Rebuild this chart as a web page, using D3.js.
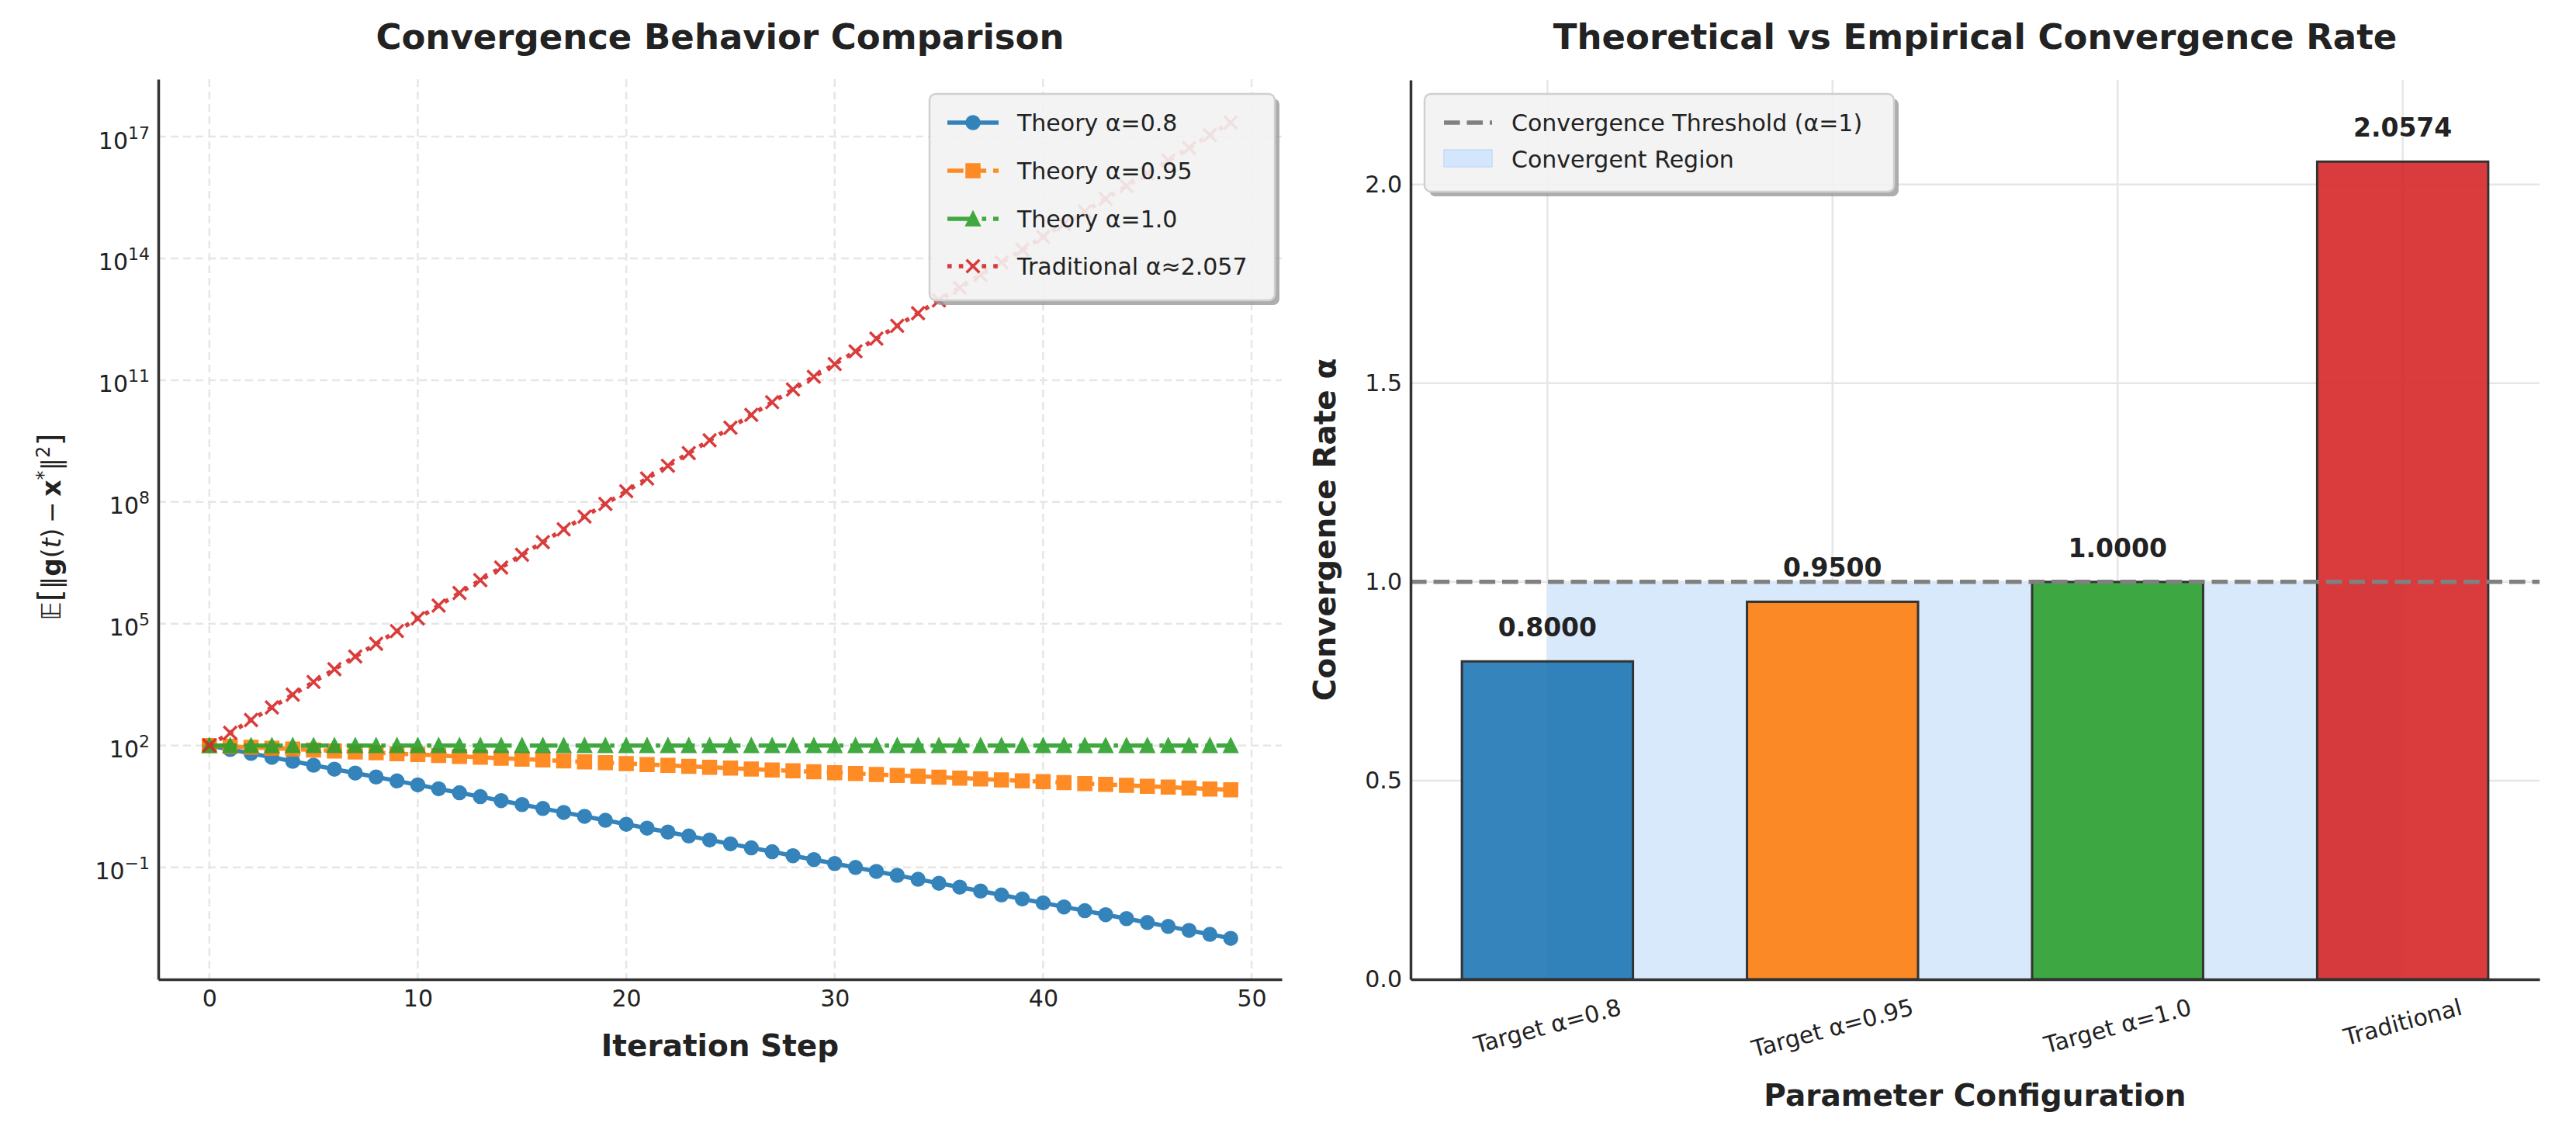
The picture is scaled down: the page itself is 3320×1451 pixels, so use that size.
<!DOCTYPE html>
<html>
<head>
<meta charset="utf-8">
<script src="https://cdn.jsdelivr.net/npm/d3@7"></script>
<style>
	body { margin: 0; background: #fff; }
	svg { display: block; font-family: "DejaVu Sans", sans-serif; }
</style>
</head>
<body>
<svg id="chart" width="3320" height="1451"></svg>
<script>
'use strict';

// ---- data: left panel (error vs iteration, log scale)
const steps = [0, 1, 2, 3, 4, 5, 6, 7, 8, 9, 10, 11, 12, 13, 14, 15, 16, 17, 18, 19,
	20, 21, 22, 23, 24, 25, 26, 27, 28, 29, 30, 31, 32, 33, 34, 35, 36, 37, 38, 39,
	40, 41, 42, 43, 44, 45, 46, 47, 48, 49];
const theory08 = [100, 80, 64, 51.2, 40.96, 32.77, 26.21, 20.97, 16.78, 13.42,
	10.74, 8.59, 6.87, 5.50, 4.40, 3.52, 2.81, 2.25, 1.80, 1.44,
	1.15, 0.922, 0.738, 0.590, 0.472, 0.378, 0.302, 0.242, 0.193, 0.155,
	0.124, 0.0990, 0.0792, 0.0634, 0.0507, 0.0406, 0.0325, 0.0260, 0.0208, 0.0166,
	0.0133, 0.0106, 0.00851, 0.00681, 0.00545, 0.00436, 0.00349, 0.00279, 0.00223, 0.00178];
const theory095 = [100, 95, 90.3, 85.7, 81.5, 77.4, 73.5, 69.8, 66.3, 63.0,
	59.9, 56.9, 54.0, 51.3, 48.8, 46.3, 44.0, 41.8, 39.7, 37.7,
	35.8, 34.1, 32.4, 30.7, 29.2, 27.7, 26.3, 25.0, 23.8, 22.6,
	21.5, 20.4, 19.4, 18.4, 17.5, 16.6, 15.8, 15.0, 14.2, 13.5,
	12.9, 12.2, 11.6, 11.0, 10.5, 9.94, 9.45, 8.97, 8.53, 8.10];
const theory10 = [100, 100, 100, 100, 100, 100, 100, 100, 100, 100,
	100, 100, 100, 100, 100, 100, 100, 100, 100, 100,
	100, 100, 100, 100, 100, 100, 100, 100, 100, 100,
	100, 100, 100, 100, 100, 100, 100, 100, 100, 100,
	100, 100, 100, 100, 100, 100, 100, 100, 100, 100];
const traditional = [1.000e2, 2.057e2, 4.231e2, 8.704e2, 1.790e3, 3.683e3, 7.576e3, 1.558e4, 3.205e4, 6.593e4,
	1.356e5, 2.790e5, 5.739e5, 1.180e6, 2.428e6, 4.995e6, 1.027e7, 2.113e7, 4.347e7, 8.942e7,
	1.839e8, 3.784e8, 7.783e8, 1.601e9, 3.293e9, 6.774e9, 1.393e10, 2.866e10, 5.896e10, 1.213e11,
	2.495e11, 5.132e11, 1.056e12, 2.172e12, 4.467e12, 9.189e12, 1.890e13, 3.888e13, 7.998e13, 1.645e14,
	3.384e14, 6.961e14, 1.432e15, 2.946e15, 6.059e15, 1.246e16, 2.564e16, 5.274e16, 1.084e17, 2.231e17];
const seriesNames = ["Theory α=0.8", "Theory α=0.95", "Theory α=1.0", "Traditional α≈2.057"];
const xTicks = [0, 10, 20, 30, 40, 50];
const yTicks = [1e-1, 1e2, 1e5, 1e8, 1e11, 1e14, 1e17];

// ---- data: right panel (convergence rate per config)
const configs = ["Target α=0.8", "Target α=0.95", "Target α=1.0", "Traditional"];
const rates = [0.8, 0.95, 1.0, 2.0574];
const rateTicks = [0, 0.5, 1.0, 1.5, 2.0];
const threshold = 1.0;

// ---- style
const colors = ["#1f77b4", "#ff7f0e", "#2ca02c", "#d62728"];
const textColor = "#222";
const spineColor = "#333";
const gridColor = "#e6e6e6";

const svg = d3.select("#chart");
svg.append("rect").attr("width", 3320).attr("height", 1451).attr("fill", "#fff");
const defs = svg.append("defs");

// marker shapes (size in px, centred on 0,0)
const markerPath = (type, s) => {
	const r = s / 2;
	if (type === "circle") return `M${r},0A${r},${r} 0 1,1 ${-r},0A${r},${r} 0 1,1 ${r},0Z`;
	if (type === "square") return `M${-r},${-r}H${r}V${r}H${-r}Z`;
	if (type === "triangle") return `M0,${-r}L${r},${r}L${-r},${r}Z`;
	return `M${-r},${-r}L${r},${r}M${-r},${r}L${r},${-r}`;
};

// legend box with a shadow that only shows outside the (semi transparent) frame
const legendBox = (g, id, bx, by, bw, bh) => {
	const m = defs.append("mask").attr("id", id);
	m.append("rect").attr("width", 3320).attr("height", 1451).attr("fill", "#fff");
	m.append("rect").attr("x", bx).attr("y", by).attr("width", bw).attr("height", bh)
		.attr("rx", 8).attr("fill", "#000");
	g.append("rect").attr("x", bx + 6).attr("y", by + 6).attr("width", bw).attr("height", bh)
		.attr("rx", 8).attr("fill", "#999").attr("opacity", 0.8).attr("mask", `url(#${id})`);
	g.append("rect").attr("x", bx).attr("y", by).attr("width", bw).attr("height", bh)
		.attr("rx", 8).attr("fill", "#f2f2f2").attr("fill-opacity", 0.9)
		.attr("stroke", "#d0d0d0").attr("stroke-width", 2.5);
};

const series = [
	{name: seriesNames[0], values: theory08, color: colors[0], dash: null, marker: "circle"},
	{name: seriesNames[1], values: theory095, color: colors[1], dash: "20.6,8.9", marker: "square"},
	{name: seriesNames[2], values: theory10, color: colors[2], dash: "35.6,8.9,5.6,8.9", marker: "triangle"},
	{name: seriesNames[3], values: traditional, color: colors[3], dash: "5.6,9.2", marker: "x"}
];

// =============== left panel ===============
const L = {left: 204, right: 1652, top: 102, bottom: 1262};
const x = d3.scaleLinear().domain([-2.45, 51.45]).range([L.left, L.right]);
const y = d3.scaleLog().domain([1.74e-4, 2.6e18]).range([L.bottom, L.top]);

const gl = svg.append("g");

// grid
gl.selectAll(".vgrid").data(xTicks).enter().append("line")
	.attr("x1", d => x(d)).attr("x2", d => x(d))
	.attr("y1", L.top).attr("y2", L.bottom)
	.attr("stroke", gridColor).attr("stroke-width", 2.5).attr("stroke-dasharray", "10,6");
gl.selectAll(".hgrid").data(yTicks).enter().append("line")
	.attr("x1", L.left).attr("x2", L.right)
	.attr("y1", d => y(d)).attr("y2", d => y(d))
	.attr("stroke", gridColor).attr("stroke-width", 2.5).attr("stroke-dasharray", "10,6");

// lines + markers
const line = d3.line().x((d, i) => x(steps[i])).y(d => y(d));
series.forEach(s => {
	const g = gl.append("g").attr("opacity", 0.9);
	g.append("path")
		.attr("d", line(s.values))
		.attr("fill", "none")
		.attr("stroke", s.color)
		.attr("stroke-width", 5.5)
		.attr("stroke-dasharray", s.dash);
	g.selectAll(".m").data(s.values).enter().append("path")
		.attr("transform", (d, i) => `translate(${x(steps[i])},${y(d)})`)
		.attr("d", markerPath(s.marker, 16.7))
		.attr("fill", s.marker === "x" ? "none" : s.color)
		.attr("stroke", s.color)
		.attr("stroke-width", s.marker === "x" ? 3.5 : 2.8);
});

// axes
const xAxis = gl.append("g")
	.attr("transform", `translate(0,${L.bottom})`)
	.call(d3.axisBottom(x).tickValues(xTicks).tickSize(0).tickSizeOuter(0).tickPadding(13.7));
const yAxis = gl.append("g")
	.attr("transform", `translate(${L.left},0)`)
	.call(d3.axisLeft(y).tickValues(yTicks).tickSize(0).tickSizeOuter(0).tickPadding(11).tickFormat(() => ""));

yAxis.selectAll(".tick text")
	.attr("dy", "0.5em")
	.each(function(d) {
		const e = Math.round(Math.log10(d));
		const t = d3.select(this);
		t.append("tspan").text("10");
		t.append("tspan").attr("dy", -13).attr("font-size", 22).text(e < 0 ? "−" + (-e) : String(e));
	});

[xAxis, yAxis].forEach(a => {
	a.select(".domain").attr("stroke", spineColor).attr("stroke-width", 3.5);
	a.selectAll(".tick text").attr("font-size", 30).attr("fill", textColor)
		.attr("font-family", "DejaVu Sans");
});

// titles and labels
gl.append("text")
	.attr("x", (L.left + L.right) / 2).attr("y", 63)
	.attr("text-anchor", "middle").attr("font-size", 45).attr("font-weight", "bold")
	.attr("fill", textColor).text("Convergence Behavior Comparison");
gl.append("text")
	.attr("x", (L.left + L.right) / 2).attr("y", 1361)
	.attr("text-anchor", "middle").attr("font-size", 39).attr("font-weight", "bold")
	.attr("fill", textColor).text("Iteration Step");

// math style y label: E[||g(t) - x*||^2]
const yl = gl.append("text")
	.attr("transform", `translate(78,679) rotate(-90)`)
	.attr("text-anchor", "middle").attr("font-size", 33).attr("fill", textColor);
yl.append("tspan").attr("font-style", "italic").text("𝔼");
yl.append("tspan").attr("font-size", 41).text("[");
yl.append("tspan").text("‖");
yl.append("tspan").attr("font-weight", "bold").text("g");
yl.append("tspan").text("(");
yl.append("tspan").attr("font-style", "italic").text("t");
yl.append("tspan").text(")\u2009−\u2009");
yl.append("tspan").attr("font-weight", "bold").text("x");
yl.append("tspan").attr("dy", -14).attr("font-size", 24).text("*");
yl.append("tspan").attr("dy", 14).text("‖");
yl.append("tspan").attr("dy", -14).attr("font-size", 24).text("2");
yl.append("tspan").attr("dy", 14).attr("font-size", 41).text("]");

// legend
const lgL = gl.append("g");
legendBox(lgL, "shadowL", 1198, 121, 445, 266);
const rowY = [158, 220, 282, 343];
series.forEach((s, i) => {
	const g = lgL.append("g").attr("transform", `translate(0,${rowY[i]})`);
	const h = g.append("g").attr("opacity", 0.9);
	h.append("line").attr("x1", 1221).attr("x2", 1287)
		.attr("stroke", s.color).attr("stroke-width", 5.5).attr("stroke-dasharray", s.dash);
	h.append("path").attr("transform", "translate(1254,0)")
		.attr("d", markerPath(s.marker, 16.7))
		.attr("fill", s.marker === "x" ? "none" : s.color)
		.attr("stroke", s.color).attr("stroke-width", s.marker === "x" ? 3.5 : 2.8);
	g.append("text").attr("x", 1311).attr("y", 11)
		.attr("font-size", 30).attr("fill", textColor).text(s.name);
});

// =============== right panel ===============
const R = {left: 1818, right: 3273, top: 103, bottom: 1262};
const xb = d3.scaleBand().domain(configs).range([R.left, R.right]).paddingInner(0.4).paddingOuter(0.18);
const yr = d3.scaleLinear().domain([0, 2.263]).range([R.bottom, R.top]);
const bw = xb.bandwidth();
const cx = c => xb(c) + bw / 2;

const gr = svg.append("g");

// grid
gr.selectAll(".vgrid").data(configs).enter().append("line")
	.attr("x1", d => cx(d)).attr("x2", d => cx(d))
	.attr("y1", R.top).attr("y2", R.bottom)
	.attr("stroke", gridColor).attr("stroke-width", 2.5);
gr.selectAll(".hgrid").data(rateTicks).enter().append("line")
	.attr("x1", R.left).attr("x2", R.right)
	.attr("y1", d => yr(d)).attr("y2", d => yr(d))
	.attr("stroke", gridColor).attr("stroke-width", 2.5);

// convergent region
gr.append("rect")
	.attr("x", cx(configs[0]))
	.attr("width", cx(configs[configs.length - 1]) - cx(configs[0]))
	.attr("y", yr(threshold)).attr("height", yr(0) - yr(threshold))
	.attr("fill", "#d8e9fb");

// bars
gr.selectAll(".bar").data(rates).enter().append("rect")
	.attr("x", (d, i) => xb(configs[i]))
	.attr("width", bw)
	.attr("y", d => yr(d))
	.attr("height", d => yr(0) - yr(d))
	.attr("fill", (d, i) => colors[i])
	.attr("fill-opacity", 0.9)
	.attr("stroke", spineColor)
	.attr("stroke-width", 3);

// value labels
gr.selectAll(".val").data(rates).enter().append("text")
	.attr("x", (d, i) => cx(configs[i]))
	.attr("y", d => yr(d) - 32)
	.attr("text-anchor", "middle").attr("font-size", 33).attr("font-weight", "bold")
	.attr("fill", textColor).text(d => d3.format(".4f")(d));

// threshold line
gr.append("line")
	.attr("x1", R.left).attr("x2", R.right)
	.attr("y1", yr(threshold)).attr("y2", yr(threshold))
	.attr("stroke", "#808080").attr("stroke-width", 5.5).attr("stroke-dasharray", "20.6,8.9");

// axes
const xbAxis = gr.append("g")
	.attr("transform", `translate(0,${R.bottom})`)
	.call(d3.axisBottom(xb).tickSize(0).tickSizeOuter(0));
const yrAxis = gr.append("g")
	.attr("transform", `translate(${R.left},0)`)
	.call(d3.axisLeft(yr).tickValues(rateTicks).tickSize(0).tickSizeOuter(0).tickPadding(11).tickFormat(d3.format(".1f")));

[xbAxis, yrAxis].forEach(a => {
	a.select(".domain").attr("stroke", spineColor).attr("stroke-width", 3.5);
	a.selectAll(".tick text").attr("font-size", 30).attr("fill", textColor)
		.attr("font-family", "DejaVu Sans");
});

// rotated category labels, centred under each bar
const rot = 15 * Math.PI / 180;
xbAxis.selectAll(".tick text")
	.attr("y", 0).attr("dy", "0.35em")
	.each(function() {
		const w = this.getComputedTextLength();
		const h = 35;
		const cy = 18 + (w * Math.sin(rot) + h * Math.cos(rot)) / 2;
		d3.select(this).attr("transform", `translate(0,${cy}) rotate(-15)`);
	});

// titles and labels
gr.append("text")
	.attr("x", (R.left + R.right) / 2).attr("y", 63)
	.attr("text-anchor", "middle").attr("font-size", 45).attr("font-weight", "bold")
	.attr("fill", textColor).text("Theoretical vs Empirical Convergence Rate");
gr.append("text")
	.attr("x", (R.left + R.right) / 2).attr("y", 1425)
	.attr("text-anchor", "middle").attr("font-size", 39).attr("font-weight", "bold")
	.attr("fill", textColor).text("Parameter Configuration");
gr.append("text")
	.attr("transform", `translate(1721,${(R.top + R.bottom) / 2}) rotate(-90)`)
	.attr("text-anchor", "middle").attr("font-size", 39).attr("font-weight", "bold")
	.attr("fill", textColor).text("Convergence Rate α");

// legend
const lgR = gr.append("g");
legendBox(lgR, "shadowR", 1836, 121, 605, 126);
lgR.append("line").attr("x1", 1861).attr("x2", 1923).attr("y1", 158).attr("y2", 158)
	.attr("stroke", "#808080").attr("stroke-width", 5.5).attr("stroke-dasharray", "20.6,8.9");
lgR.append("text").attr("x", 1948).attr("y", 169)
	.attr("font-size", 30).attr("fill", textColor).text("Convergence Threshold (α=1)");
lgR.append("rect").attr("x", 1861).attr("y", 193).attr("width", 62).attr("height", 22)
	.attr("fill", "#d4e6fb").attr("stroke", "#c4dcf7").attr("stroke-width", 1.5);
lgR.append("text").attr("x", 1948).attr("y", 216)
	.attr("font-size", 30).attr("fill", textColor).text("Convergent Region");
</script>
</body>
</html>
